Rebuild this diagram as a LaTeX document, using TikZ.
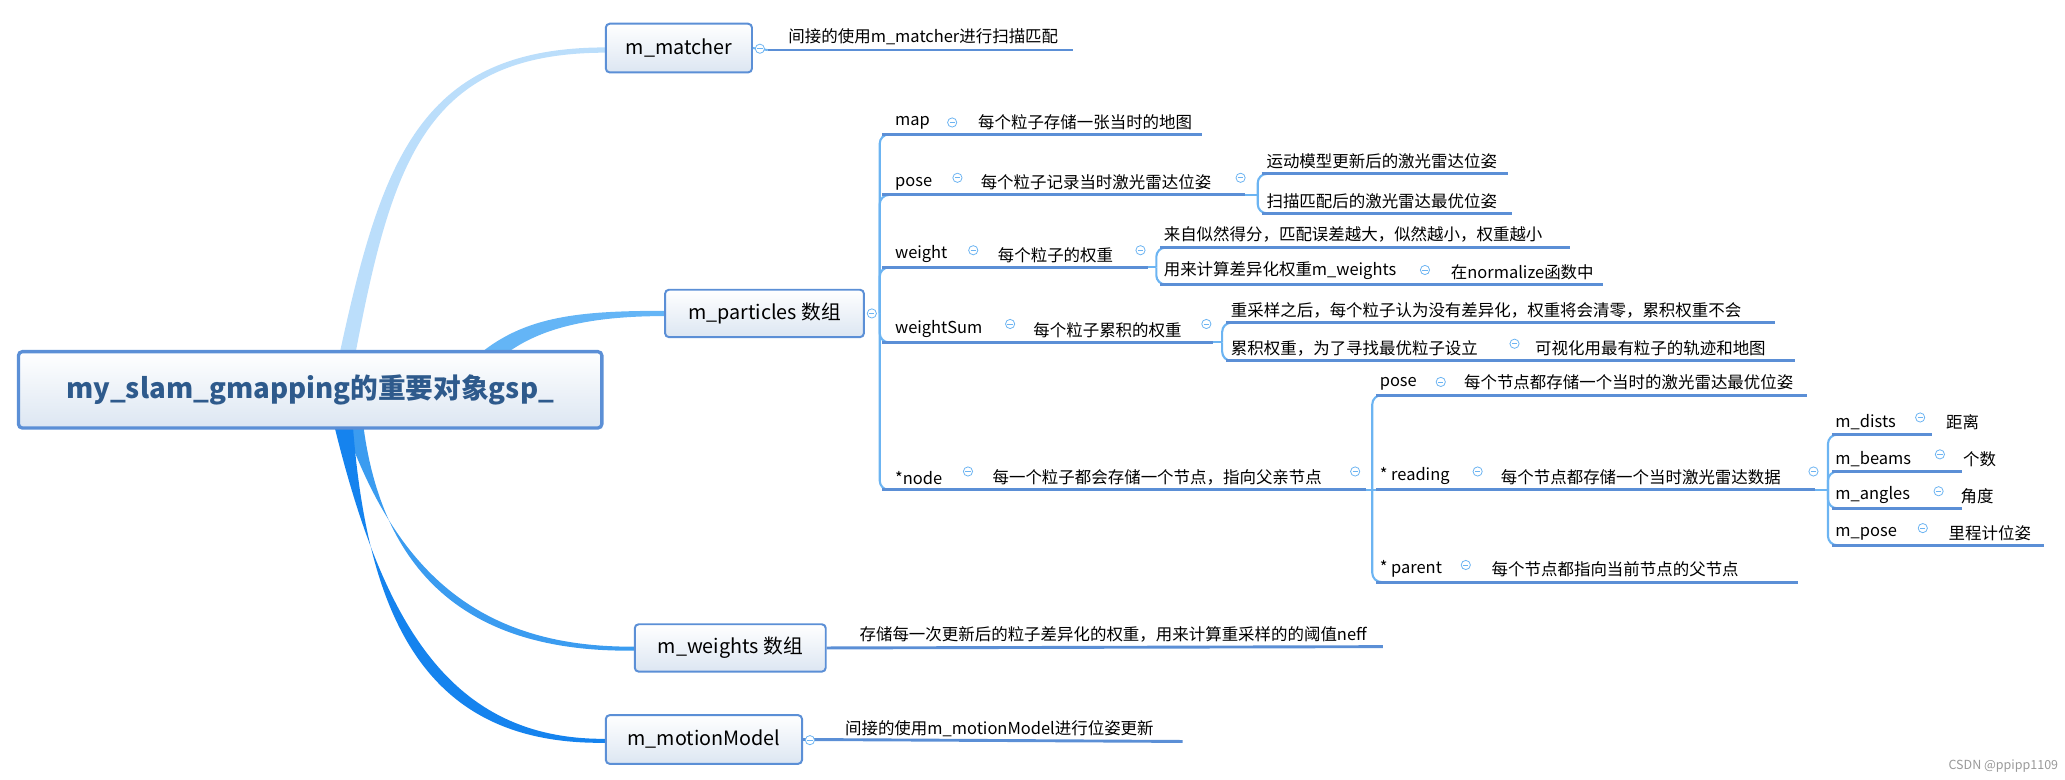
\documentclass[tikz,border=0pt]{standalone}
\usepackage{fontspec}
\setmainfont{Noto Sans CJK SC}
\begin{document}
\begin{tikzpicture}[x=1pt,y=-1pt,
  box/.style={draw=boxc,line width=1.5pt,rounded corners=3pt,top color=white,bottom color=boxb,inner sep=0pt,font=\fontsize{15}{15}\selectfont,text=black},
  txt/.style={anchor=south west,inner sep=1.5pt,font=\fontsize{12.5}{13}\selectfont,text=black},
  ul/.style={draw=ulc,line width=2.2pt},
  br/.style={draw=brc,line width=1.6pt,rounded corners=7pt},
  mc/.style={circle,draw=brc,line width=0.6pt,minimum size=7pt,inner sep=0pt,fill=white,
    path picture={\draw[brc,line width=0.6pt] ([xshift=-2pt]path picture bounding box.center)--([xshift=2pt]path picture bounding box.center);}}]
\definecolor{boxc}{HTML}{5B8FD6}
\definecolor{boxb}{HTML}{DCE6F2}
\definecolor{ulc}{HTML}{5B8FD6}
\definecolor{brc}{HTML}{6CB4F2}
\definecolor{rootc}{HTML}{2E5A8C}
\definecolor{c1}{HTML}{BBDEFB}
\definecolor{c2}{HTML}{64B5F6}
\definecolor{c3}{HTML}{3B9CF0}
\definecolor{c4}{HTML}{1583EE}
\useasboundingbox (0,0) rectangle (1568,592);
% tapered connectors from root
\fill[c1] (258,268) .. controls (290,120) and (320,36) .. (460,36) -- (460,40) .. controls (325,40) and (298,120) .. (270,268) -- cycle;
\fill[c2] (365,268) .. controls (400,240) and (440,236) .. (505,236) -- (505,240) .. controls (445,240) and (410,250) .. (385,268) -- cycle;
\fill[c3] (262,324) .. controls (300,430) and (360,492) .. (482,491) -- (482,494) .. controls (350,496) and (290,430) .. (276,324) -- cycle;
\fill[c4] (254,324) .. controls (290,470) and (340,562) .. (460,561) -- (460,564) .. controls (330,566) and (280,480) .. (268,324) -- cycle;
% root
\node[box,line width=2.5pt,minimum width=443pt,minimum height=58pt,font=\fontsize{21}{21}\selectfont\bfseries,text=rootc] (root) at (235.5,296) {my\_slam\_gmapping的重要对象gsp\_};
% level 1 boxes
\node[box,minimum width=111pt,minimum height=37pt] (mm) at (515.5,36.5) {m\_matcher};
\node[box,minimum width=151pt,minimum height=36pt] (mp) at (580.5,238) {m\_particles 数组};
\node[box,minimum width=145pt,minimum height=36pt] (mw) at (554.5,492) {m\_weights 数组};
\node[box,minimum width=149pt,minimum height=37pt] (mo) at (534.5,561.5) {m\_motionModel};
% m_matcher
\draw[brc,line width=1.5pt] (mm.east) -- (583,38);
\node[mc] (mmc) at (577,37) {};
\draw[ul] (583,38) coordinate (mma) -- (815,38) coordinate (mmb);
\node[txt] (mmt) at (597,36) {间接的使用m\_matcher进行扫描匹配};
% m_weights
\draw[ul] (mw.east) -- (1050,491);
\node[txt] (mwt) at (651,489) {存储每一次更新后的粒子差异化的权重，用来计算重采样的的阈值neff};
% m_motionModel
\draw[ul] (mo.east) -- (898,563);
\node[mc] (moc) at (615,562) {};
\node[txt] (mot) at (640,561) {间接的使用m\_motionModel进行位姿更新};
% m_particles branch
\node[mc] (mpc) at (662,238) {};
\coordinate (pb) at (668,238);
\foreach \y in {102,148,203,260,372} \draw[br] (pb) |- (680,\y);
\draw[ul] (670,102) -- (913,102);
\node[txt] (t1) at (678,100) {map}; \node[mc] (c1n) at (723,93) {}; \node[txt] (t1d) at (741,100) {每个粒子存储一张当时的地图};
\draw[ul] (670,148) -- (945,148);
\node[txt] (t2) at (678,146) {pose}; \node[mc] (c2n) at (727,135) {}; \node[txt] (t2d) at (743,146) {每个粒子记录当时激光雷达位姿};
\draw[ul] (670,203) -- (872,203);
\node[txt] (t3) at (678,201) {weight}; \node[mc] (c3n) at (739,190) {}; \node[txt] (t3d) at (756,201) {每个粒子的权重};
\draw[ul] (670,260) -- (921,260);
\node[txt] (t4) at (678,258) {weightSum}; \node[mc] (c4n) at (767,246) {}; \node[txt] (t4d) at (783,258) {每个粒子累积的权重};
\draw[ul] (670,372) -- (1037,372);
\node[txt] (t5) at (678,370) {*node}; \node[mc] (c5n) at (735,358) {}; \node[txt] (t5d) at (752,370) {每一个粒子都会存储一个节点，指向父亲节点};
% pose children
\node[mc] (pc) at (942,135) {}; \coordinate (pob) at (955,148);
\draw[br] (945,148) -- (955,148); \draw[br] (pob) |- (965,132); \draw[br] (pob) |- (965,162);
\draw[ul] (958,132) -- (1145,132); \node[txt] (p1) at (960,130) {运动模型更新后的激光雷达位姿};
\draw[ul] (958,162) -- (1148,162); \node[txt] (p2) at (960,160) {扫描匹配后的激光雷达最优位姿};
% weight children
\node[mc] (wc) at (866,190) {}; \coordinate (wb) at (878,203);
\draw[br] (872,203) -- (878,203); \draw[br] (wb) |- (888,188); \draw[br] (wb) |- (888,216);
\draw[ul] (881,188) -- (1192,188); \node[txt] (w1) at (882,186) {来自似然得分，匹配误差越大，似然越小，权重越小};
\draw[ul] (881,216) -- (1217,216); \node[txt] (w2) at (882,214) {用来计算差异化权重m\_weights};
\node[mc] (w2c) at (1082,205) {}; \node[txt] (w3) at (1100,214) {在normalize函数中};
% weightSum children
\node[mc] (sc) at (916,246) {}; \coordinate (sb) at (928,260);
\draw[br] (921,260) -- (928,260); \draw[br] (sb) |- (938,245); \draw[br] (sb) |- (938,274);
\draw[ul] (931,245) -- (1348,245); \node[txt] (s1) at (933,243) {重采样之后，每个粒子认为没有差异化，权重将会清零，累积权重不会};
\draw[ul] (931,274) -- (1363,274); \node[txt] (s2) at (933,272) {累积权重，为了寻找最优粒子设立};
\node[mc] (s2c) at (1150,261) {}; \node[txt] (s3) at (1164,272) {可视化用最有粒子的轨迹和地图};
% node children
\node[mc] (nc) at (1029,358) {}; \coordinate (nb) at (1042,372);
\draw[br] (1037,372) -- (1042,372);
\foreach \y in {300,442} \draw[br] (nb) |- (1052,\y);
\draw[br] (nb) -- (1052,372);
\draw[ul] (1045,300) -- (1372,300); \node[txt] (n1) at (1046,298) {pose}; \node[mc] (n1c) at (1094,290) {}; \node[txt] (n1d) at (1110,298) {每个节点都存储一个当时的激光雷达最优位姿};
\draw[ul] (1045,372) -- (1378,372); \node[txt] (n2) at (1046,370) {* reading}; \node[mc] (n2c) at (1122,358) {}; \node[txt] (n2d) at (1138,370) {每个节点都存储一个当时激光雷达数据};
\draw[ul] (1045,442) -- (1365,442); \node[txt] (n3) at (1046,440) {* parent}; \node[mc] (n3c) at (1113,429) {}; \node[txt] (n3d) at (1131,440) {每个节点都指向当前节点的父节点};
% reading children
\node[mc] (rc) at (1377,358) {}; \coordinate (rb) at (1388,372);
\draw[br] (1378,372) -- (1388,372);
\foreach \y in {330,358,386,414} \draw[br] (rb) |- (1398,\y);
\draw[ul] (1391,330) -- (1467,330); \node[txt] (r1) at (1392,328) {m\_dists}; \node[mc] (r1c) at (1458,317) {}; \node[txt] (r1d) at (1476,328) {距离};
\draw[ul] (1391,358) -- (1490,358); \node[txt] (r2) at (1392,356) {m\_beams}; \node[mc] (r2c) at (1473,345) {}; \node[txt] (r2d) at (1489,356) {个数};
\draw[ul] (1391,386) -- (1490,386); \node[txt] (r3) at (1392,384) {m\_angles}; \node[mc] (r3c) at (1472,373) {}; \node[txt] (r3d) at (1487,384) {角度};
\draw[ul] (1391,414) -- (1552,414); \node[txt] (r4) at (1392,412) {m\_pose}; \node[mc] (r4c) at (1460,401) {}; \node[txt] (r4d) at (1478,412) {里程计位姿};
% watermark
\node[anchor=south east,inner sep=1pt,font=\fontsize{9.5}{10}\selectfont,text=black!40] (wm) at (1564,588) {CSDN @ppipp1109};
\end{tikzpicture}
\end{document}
